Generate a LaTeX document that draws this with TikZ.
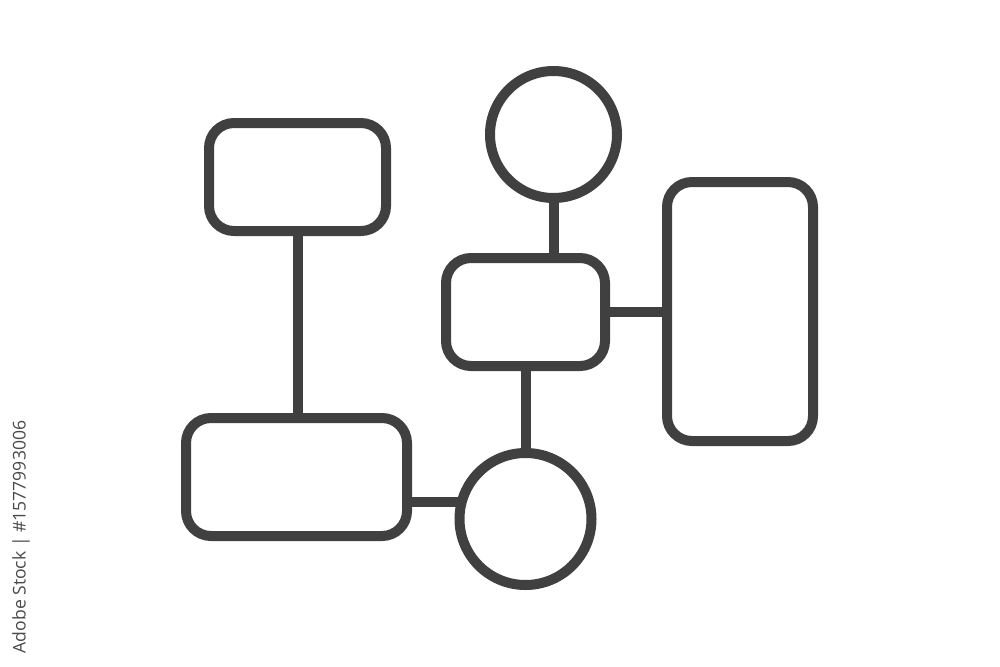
\documentclass[tikz,border=0pt]{standalone}
\usepackage{fontspec}
\newfontfamily\wmfont{Open Sans}
\definecolor{ink}{HTML}{404040}
\definecolor{wmgray}{HTML}{4A4A4A}
\begin{document}
\begin{tikzpicture}[x=0.03cm,y=-0.03cm,
  box/.style={draw=ink, line width=0.3cm, rounded corners=0.75cm, inner sep=0pt, outer sep=0pt, fill=none},
  ring/.style={draw=ink, line width=0.3cm, circle, inner sep=0pt, outer sep=0pt},
  link/.style={draw=ink, line width=0.3cm}]
\useasboundingbox[fill=white] (0,0) rectangle (1000,667);
\node[box, minimum width={177*0.03cm}, minimum height={108*0.03cm}] (tl) at (297.5,177) {};
\node[box, minimum width={159*0.03cm}, minimum height={108*0.03cm}] (mid) at (525.5,312) {};
\node[box, minimum width={146*0.03cm}, minimum height={259*0.03cm}] (rt) at (740,311.5) {};
\node[box, minimum width={221*0.03cm}, minimum height={118*0.03cm}] (bl) at (296.5,477) {};
\node[ring, minimum size={127*0.03cm}] (tc) at (553.5,134.5) {};
\node[ring, minimum size={132*0.03cm}] (bc) at (525.5,519) {};
\draw[link] (tl.south) -- (tl.south |- bl.north);
\draw[link] (tc.south) -- (tc.south |- mid.north);
\draw[link] (mid.east) -- (mid.east -| rt.west);
\draw[link] (mid.south) -- (mid.south |- bc.north);
\draw[link] (bl.east |- bc.165) -- (bc.165);
\node[rotate=90, text=wmgray, font=\wmfont\fontsize{15}{18}\selectfont, inner sep=0pt] (wm) at (21,537) {Adobe Stock | \#1577993006};
\end{tikzpicture}
\end{document}
